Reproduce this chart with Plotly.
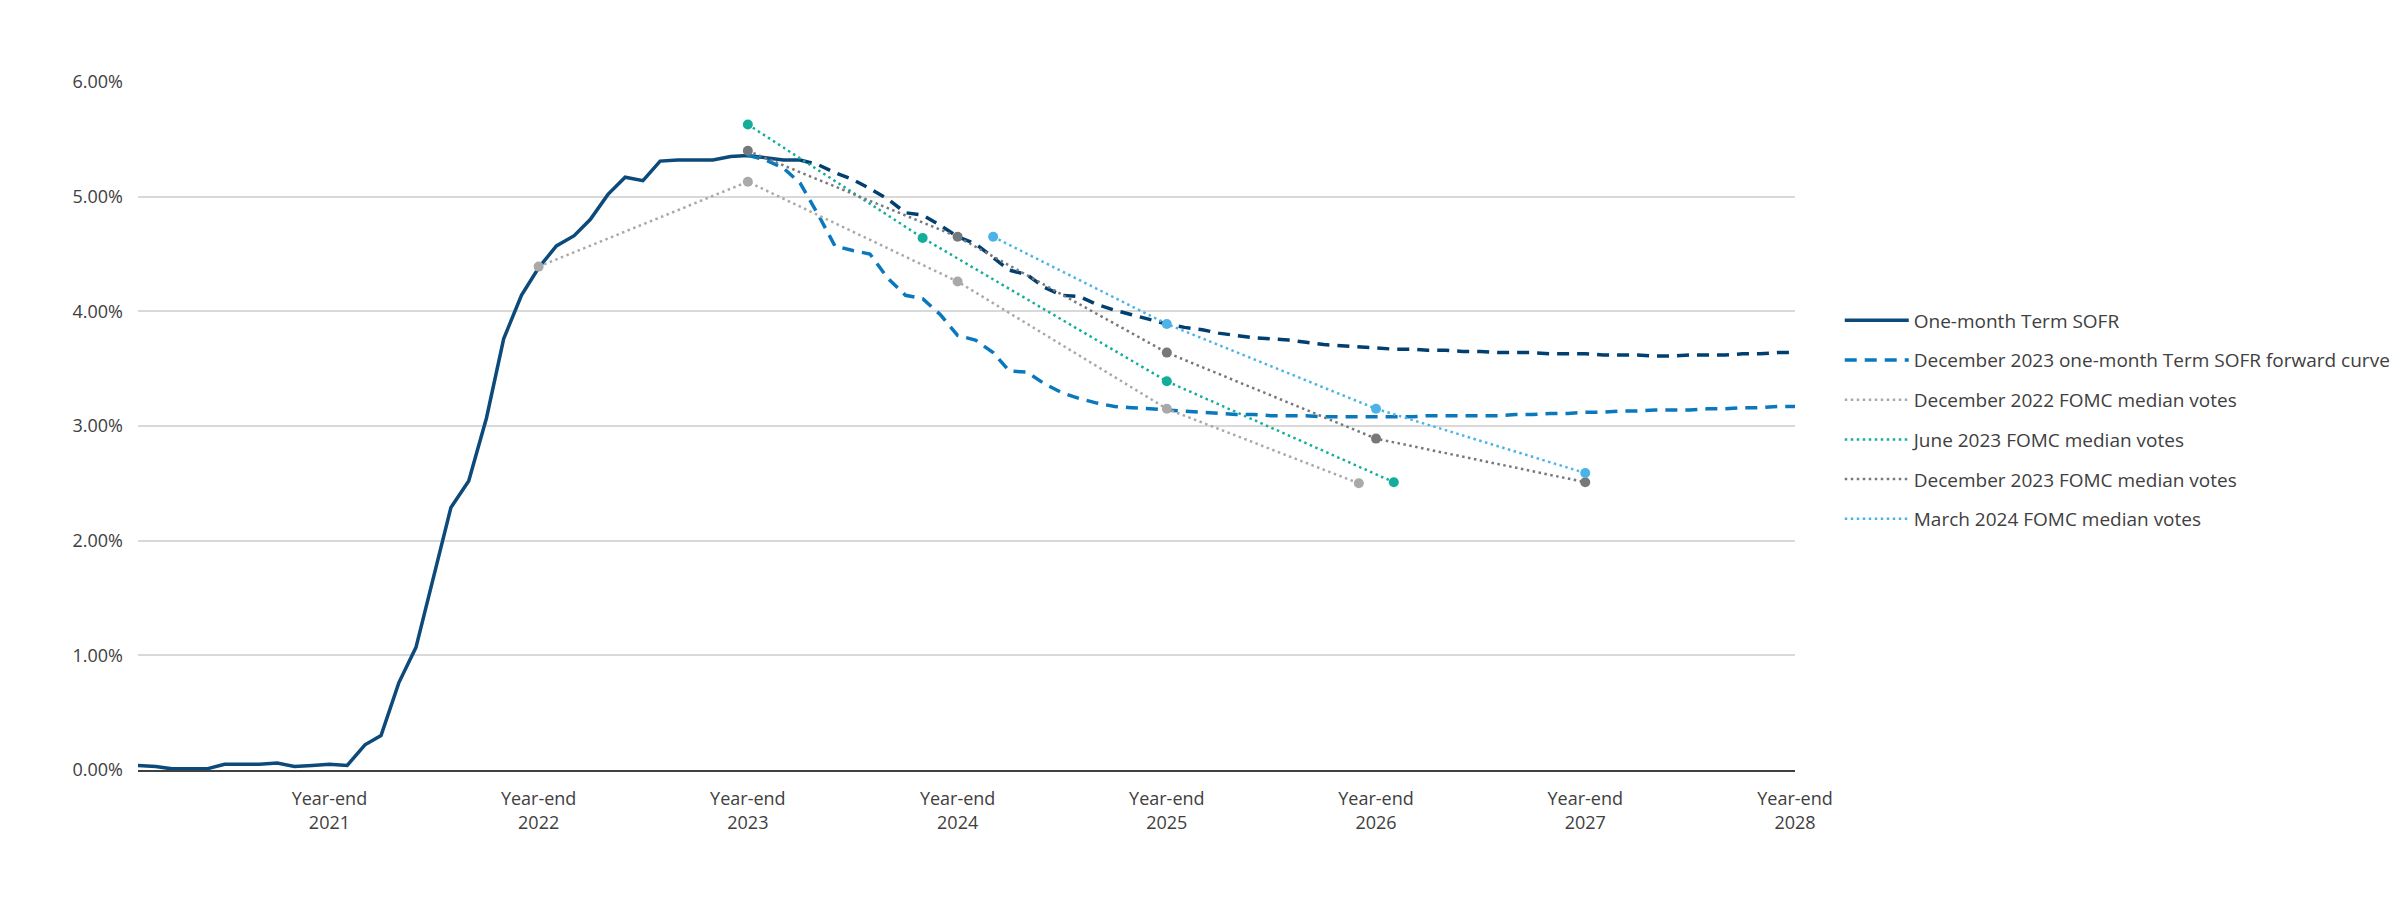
import plotly.graph_objects as go
import pandas as pd

# ---------------- data ----------------
sofr_start = "2021-01-01"
sofr_values = [0.04, 0.03, 0.01, 0.01, 0.01, 0.05, 0.05, 0.05, 0.06, 0.03, 0.04, 0.05,
               0.04, 0.22, 0.30, 0.76, 1.07, 1.68, 2.29, 2.52, 3.07, 3.76, 4.14, 4.38,
               4.57, 4.66, 4.80, 5.02, 5.17, 5.14, 5.31, 5.32, 5.32, 5.32, 5.35, 5.36,
               5.34, 5.32, 5.32]

latest_curve_start = "2024-03-01"
latest_curve_values = [5.32, 5.28, 5.21, 5.15, 5.07, 4.98, 4.86, 4.84, 4.75, 4.65,
                       4.59, 4.47, 4.36, 4.32, 4.21, 4.14, 4.13, 4.06, 4.01, 3.97,
                       3.93, 3.89, 3.86, 3.84, 3.81, 3.79, 3.77, 3.76, 3.75, 3.73,
                       3.71, 3.70, 3.69, 3.68, 3.67, 3.67, 3.66, 3.66, 3.65, 3.65,
                       3.64, 3.64, 3.64, 3.63, 3.63, 3.63, 3.62, 3.62, 3.62, 3.61,
                       3.61, 3.62, 3.62, 3.62, 3.63, 3.63, 3.64, 3.64]

dec23_curve_start = "2023-12-01"
dec23_curve_values = [5.36, 5.32, 5.25, 5.12, 4.85, 4.57, 4.53, 4.50, 4.29, 4.14,
                      4.11, 3.97, 3.79, 3.75, 3.64, 3.48, 3.47, 3.37, 3.29, 3.24,
                      3.20, 3.17, 3.16, 3.15, 3.14, 3.13, 3.12, 3.11, 3.10, 3.10,
                      3.09, 3.09, 3.09, 3.08, 3.08, 3.08, 3.08, 3.08, 3.08, 3.09,
                      3.09, 3.09, 3.09, 3.09, 3.10, 3.10, 3.11, 3.11, 3.12, 3.12,
                      3.13, 3.13, 3.14, 3.14, 3.14, 3.15, 3.15, 3.16, 3.16, 3.17,
                      3.17]

fomc_dec22_months = ["2022-12", "2023-12", "2024-12", "2025-12", "2026-11"]
fomc_dec22_values = [4.39, 5.13, 4.26, 3.15, 2.50]

fomc_jun23_months = ["2023-12", "2024-10", "2025-12", "2027-01"]
fomc_jun23_values = [5.63, 4.64, 3.39, 2.51]

fomc_dec23_months = ["2023-12", "2024-12", "2025-12", "2026-12", "2027-12"]
fomc_dec23_values = [5.40, 4.65, 3.64, 2.89, 2.51]

fomc_mar24_months = ["2025-02", "2025-12", "2026-12", "2027-12"]
fomc_mar24_values = [4.65, 3.89, 3.15, 2.59]

tick_months = ["2021-12", "2022-12", "2023-12", "2024-12", "2025-12", "2026-12", "2027-12", "2028-12"]
tick_labels = ["Year-end<br>2021", "Year-end<br>2022", "Year-end<br>2023", "Year-end<br>2024",
               "Year-end<br>2025", "Year-end<br>2026", "Year-end<br>2027", "Year-end<br>2028"]
y_ticks = [0, 1, 2, 3, 4, 5, 6]


def months_from(start, n):
    return pd.date_range(start, periods=n, freq="MS")


def to_dates(months):
    return pd.to_datetime(months, format="%Y-%m")


NAVY = "#0b4a7b"
NAVY_DARK = "#003f6f"
BLUE = "#0a78bd"
LGRAY = "#a9a9a9"
TEAL = "#12ae9a"
DGRAY = "#76797c"
LBLUE = "#4cb3e6"

FONT = "Open Sans"
TXT = "#404040"

fig = go.Figure()

fig.add_trace(go.Scatter(
    x=months_from(sofr_start, len(sofr_values)), y=sofr_values,
    mode="lines", name="One-month Term SOFR", legendgroup="g1",
    line=dict(color=NAVY, width=3.5)))

fig.add_trace(go.Scatter(
    x=months_from(dec23_curve_start, len(dec23_curve_values)), y=dec23_curve_values,
    mode="lines", name="December 2023 one-month Term SOFR forward curve", legendgroup="g2",
    line=dict(color=BLUE, width=3.5, dash="12px,8px")))

fig.add_trace(go.Scatter(
    x=months_from(latest_curve_start, len(latest_curve_values)), y=latest_curve_values,
    mode="lines", name="Forward curve", showlegend=False, legendgroup="g0",
    line=dict(color=NAVY_DARK, width=3.5, dash="12px,8px")))

fomc = [
    ("December 2022 FOMC median votes", fomc_dec22_months, fomc_dec22_values, LGRAY, "g3"),
    ("June 2023 FOMC median votes", fomc_jun23_months, fomc_jun23_values, TEAL, "g4"),
    ("December 2023 FOMC median votes", fomc_dec23_months, fomc_dec23_values, DGRAY, "g5"),
    ("March 2024 FOMC median votes", fomc_mar24_months, fomc_mar24_values, LBLUE, "g6"),
]
for name, months, vals, col, grp in fomc:
    fig.add_trace(go.Scatter(
        x=to_dates(months), y=vals, mode="lines", name=name, legendgroup=grp,
        line=dict(color=col, width=2.5, dash="2.5px,3.5px")))
for name, months, vals, col, grp in fomc:
    fig.add_trace(go.Scatter(
        x=to_dates(months), y=vals, mode="markers", name=name, legendgroup=grp,
        showlegend=False, marker=dict(color=col, size=10)))

fig.update_layout(
    width=2400, height=915,
    margin=dict(l=130, r=602, t=74, b=153),
    paper_bgcolor="white", plot_bgcolor="white",
    font=dict(family=FONT, size=18, color=TXT),
    showlegend=True,
    legend=dict(x=1.027, xanchor="left", y=0.681, yanchor="top",
                font=dict(family=FONT, size=19, color=TXT),
                tracegroupgap=12, itemwidth=64, bgcolor="rgba(0,0,0,0)"),
)

fig.update_xaxes(
    range=[pd.Timestamp("2021-01-01"), pd.Timestamp("2028-12-01")],
    tickmode="array", tickvals=to_dates(tick_months), ticktext=tick_labels,
    showgrid=False, showline=True, linecolor="#404040", linewidth=1.5,
    ticks="", tickfont=dict(family=FONT, size=18, color=TXT), zeroline=False,
    ticklabelstandoff=12,
)
fig.update_yaxes(
    range=[0, 6], tickmode="array", tickvals=y_ticks,
    ticktext=[f"{v:.2f}%" for v in y_ticks],
    showgrid=True, gridcolor="#d9d9d9", gridwidth=1.5, zeroline=False,
    showline=False, ticks="", tickfont=dict(family=FONT, size=18, color=TXT),
    ticklabelstandoff=14,
)

fig.write_html("out.html")
